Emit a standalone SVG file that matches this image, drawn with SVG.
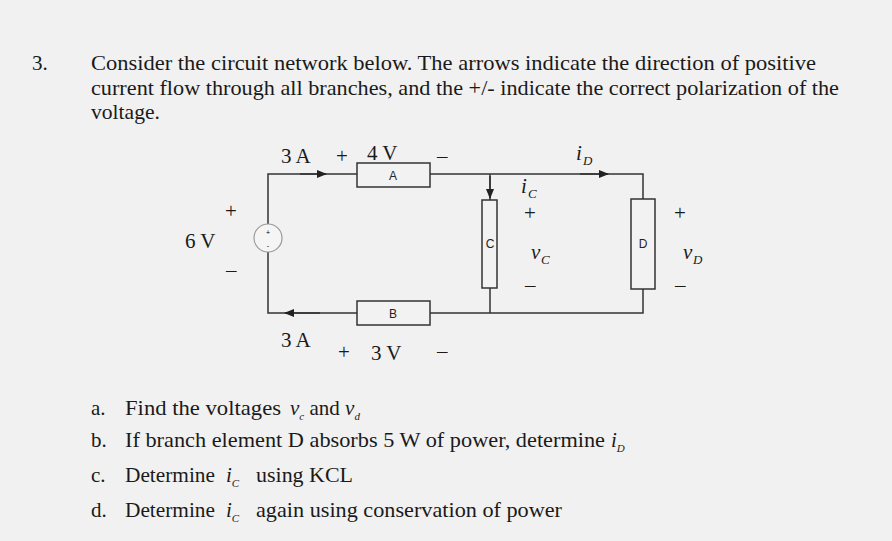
<svg xmlns="http://www.w3.org/2000/svg" width="892" height="541" viewBox="0 0 892 541">
<style>
.t{font-family:"Liberation Serif",serif;font-size:21px;fill:#1a1a1a}
.i{font-family:"Liberation Serif",serif;font-style:italic;fill:#1a1a1a}
.s{font-family:"Liberation Sans",sans-serif;font-size:12px;fill:#222}
.w{fill:none;stroke:#333;stroke-width:1.5}
.b{fill:#f2f2f2;stroke:#333;stroke-width:1.5}
</style>
<defs><marker id="ar" markerWidth="10" markerHeight="8" refX="9" refY="4" orient="auto" markerUnits="userSpaceOnUse"><path d="M0,0L10,4L0,8Z" fill="#222"/></marker></defs>
<rect width="892" height="541" fill="#f1f1f1"/>
<text class="t" x="32" y="70">3.</text>
<text class="t" x="91" y="70" textLength="725" lengthAdjust="spacingAndGlyphs">Consider the circuit network below. The arrows indicate the direction of positive</text>
<text class="t" x="91" y="95" textLength="748" lengthAdjust="spacingAndGlyphs">current flow through all branches, and the +/- indicate the correct polarization of the</text>
<text class="t" x="91" y="119" textLength="69" lengthAdjust="spacingAndGlyphs">voltage.</text>
<g id="connectors">
<path class="w" d="M268,224V174H357M430,174H643V199M643,289V313H268V252M490,174V200M490,288V313"/>
<line class="w" x1="300" y1="174" x2="326" y2="174" marker-end="url(#ar)"/>
<line class="w" x1="580" y1="174" x2="608" y2="174" marker-end="url(#ar)"/>
<line class="w" x1="490" y1="176" x2="490" y2="198" marker-end="url(#ar)"/>
<line class="w" x1="320" y1="313" x2="285" y2="313" marker-end="url(#ar)"/>
</g>
<g id="src"><circle cx="268" cy="238" r="14" fill="#f5f5f5" stroke="#999" stroke-width="1.2"/><text x="268" y="235" font-size="7" text-anchor="middle" font-family="Liberation Sans,sans-serif">+</text><text x="268" y="248" font-size="7" text-anchor="middle" font-family="Liberation Sans,sans-serif">-</text></g>
<g id="A"><rect class="b" x="357" y="163" width="73" height="24"/><text class="s" x="393" y="180" text-anchor="middle">A</text></g>
<g id="B"><rect class="b" x="357" y="301" width="73" height="24"/><text class="s" x="393" y="318" text-anchor="middle">B</text></g>
<g id="C"><rect class="b" x="482" y="200" width="15" height="88"/><text class="s" x="490" y="248" text-anchor="middle">C</text></g>
<g id="D"><rect class="b" x="631" y="199" width="24" height="90"/><text class="s" x="643" y="248" text-anchor="middle">D</text></g>
<g id="labels">
<text class="t" x="281" y="163">3 A</text><text class="t" x="336" y="163">+</text><text class="t" x="367" y="160">4 V</text><text class="t" x="437" y="163">–</text>
<text class="i" font-size="21" x="576" y="160">i</text><text class="i" font-size="13" x="583" y="165">D</text>
<text class="i" font-size="21" x="521" y="193">i</text><text class="i" font-size="13" x="528" y="198">C</text>
<text class="t" x="524" y="220">+</text><text class="t" x="525" y="292">–</text>
<text class="i" font-size="21" x="531" y="259">v</text><text class="i" font-size="13" x="541" y="264">C</text>
<text class="t" x="674" y="220">+</text><text class="t" x="675" y="292">–</text>
<text class="i" font-size="21" x="683" y="259">v</text><text class="i" font-size="13" x="693" y="264">D</text>
<text class="t" x="225" y="218">+</text><text class="t" x="185" y="248">6 V</text><text class="t" x="226" y="277">–</text>
<text class="t" x="281" y="347">3 A</text><text class="t" x="338" y="359">+</text><text class="t" x="371" y="360">3 V</text><text class="t" x="437" y="358">–</text>
</g>
<text class="t" x="91" y="415">a.</text><text class="t" x="125" y="415" textLength="156" lengthAdjust="spacingAndGlyphs">Find the voltages</text><text class="t" x="290" y="415"><tspan font-style="italic">v</tspan><tspan font-size="11" font-style="italic" dy="5">c</tspan><tspan dy="-5">  and </tspan><tspan font-style="italic">v</tspan><tspan font-size="11" font-style="italic" dy="5">d</tspan></text>
<text class="t" x="91" y="447">b.</text><text class="t" x="125" y="447"><tspan textLength="480" lengthAdjust="spacingAndGlyphs">If branch element D absorbs 5 W of power, determine</tspan><tspan font-style="italic" dx="6">i</tspan><tspan font-size="11" font-style="italic" dy="5">D</tspan></text>
<text class="t" x="91" y="482">c.</text><text class="t" x="125" y="482" textLength="90" lengthAdjust="spacingAndGlyphs">Determine</text><text class="t" x="226" y="482"><tspan font-style="italic">i</tspan><tspan font-size="11" font-style="italic" dy="5">C</tspan></text><text class="t" x="256" y="482" textLength="97" lengthAdjust="spacingAndGlyphs">using KCL</text>
<text class="t" x="91" y="517">d.</text><text class="t" x="125" y="517" textLength="90" lengthAdjust="spacingAndGlyphs">Determine</text><text class="t" x="226" y="517"><tspan font-style="italic">i</tspan><tspan font-size="11" font-style="italic" dy="5">C</tspan></text><text class="t" x="256" y="517" textLength="306" lengthAdjust="spacingAndGlyphs">again using conservation of power</text>
</svg>
